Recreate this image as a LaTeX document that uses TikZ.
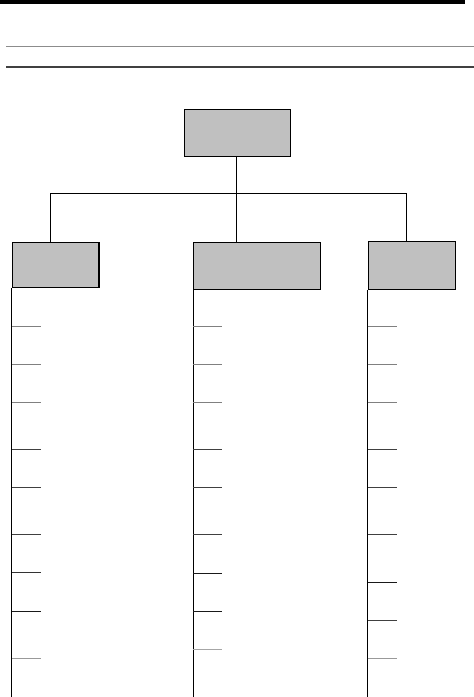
\documentclass[tikz,border=0pt]{standalone}
\begin{document}
\begin{tikzpicture}[x=1pt,y=-1pt,
  box/.style={draw=black,line width=1.2pt,fill=boxgray,inner sep=0pt,anchor=north west},
  link/.style={line width=1pt,black},
  spine/.style={line width=1.1pt,black},
  tick/.style={line width=1pt,#1},
  tick/.default={gray}]
\definecolor{boxgray}{HTML}{C0C0C0}
\useasboundingbox (0,0) rectangle (474,697);
% header rules
\fill[black] (0,0) rectangle (465,4.3);
\draw[line width=0.9pt,gray!90] (6,46) -- (474,46);
\draw[line width=1.1pt,black!75] (6,67) -- (474,67);
% boxes
\node[box,minimum width=106pt,minimum height=47pt] (top) at (184,108.5) {};
\node[box,minimum width=86.5pt,minimum height=45pt] (left) at (11.8,242) {};
\node[box,minimum width=127pt,minimum height=47pt] (mid) at (193,241.5) {};
\node[box,minimum width=87pt,minimum height=48pt] (right) at (367.5,240.8) {};
% tree connectors
\coordinate (bus) at (236.7,193.3);
\draw[link] (bus |- top.south) -- (bus);
\draw[link] (left.north -| 50,0) |- (bus) -| (right.north -| 406,0);
\draw[link] (bus) -- (mid.north -| bus);
% spines
\coordinate (lend) at (11.8,697);
\coordinate (mend) at (193.3,697);
\coordinate (rend) at (367.5,697);
\draw[spine] (left.south west) -- (lend);
\draw[spine] (mid.south west -| mend) -- (mend);
\draw[spine] (right.south west) -- (rend);
% ticks left
\foreach \y/\c in {326/gray,364/gray,402.3/gray,449.7/black!75,487.7/black!75,534.7/black!75,572.7/black!80,611/black!90,658.7/gray!80}
  \draw[tick=\c] (11.8,\y) -- (41,\y);
% ticks middle
\foreach \y/\c in {326/gray,364/gray,402.3/gray,449.7/black!75,487.7/black!75,534.7/black!75,573.3/black!90,611/black!90,649/gray!70}
  \draw[tick=\c] (193.3,\y) -- (222.3,\y);
% ticks right
\foreach \y/\c in {326/gray,364/gray,402.3/gray,449.7/black!75,487.7/black!75,534.7/black!75,582.3/black!90,620.7/black!75,658.7/gray!80}
  \draw[tick=\c] (367.5,\y) -- (396.7,\y);
\end{tikzpicture}
\end{document}
